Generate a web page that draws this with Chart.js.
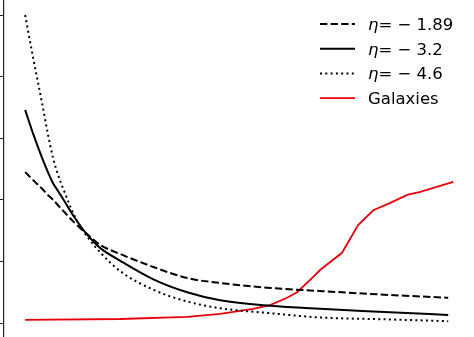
<!DOCTYPE html>
<html lang="en">
<head>
    <meta charset="UTF-8">
    <title>eta curves vs galaxies</title>
    <script src="https://cdn.jsdelivr.net/npm/chart.js"></script>
    <style>
        html, body { margin: 0; padding: 0; background: #fff; }
        .wrap { width: 474px; height: 337px; position: relative; }
    </style>
</head>
<body>
    <div class="wrap"><canvas id="chart"></canvas></div>

    <script>
        // shared x positions for the three model curves
        const xModel = [0, 0.19, 0.40, 0.52, 0.66, 0.78, 0.90, 1.18, 1.47, 1.77, 2.25, 3.03, 3.83, 4.61, 5.79, 6.97, 8.49, 10.0];
        const etaLow  = [2.45, 2.32, 2.18, 2.09, 2.00, 1.91, 1.82, 1.62, 1.44, 1.27, 1.12, 0.91, 0.73, 0.65, 0.57, 0.52, 0.46, 0.41];
        const etaMid  = [3.46, 3.07, 2.68, 2.48, 2.27, 2.14, 2.01, 1.70, 1.43, 1.22, 1.01, 0.71, 0.50, 0.37, 0.28, 0.23, 0.18, 0.13];
        const etaHigh = [5.00, 4.30, 3.57, 3.13, 2.68, 2.40, 2.18, 1.72, 1.40, 1.15, 0.84, 0.54, 0.35, 0.24, 0.16, 0.09, 0.06, 0.03];

        const xGal = [0, 2.25, 3.83, 4.61, 5.39, 5.79, 6.19, 6.43, 6.81, 6.97, 7.49, 7.87, 8.23, 8.63, 9.03, 9.34, 10.12];
        const galaxies = [0.05, 0.065, 0.10, 0.15, 0.23, 0.29, 0.41, 0.50, 0.75, 0.86, 1.14, 1.59, 1.83, 1.95, 2.08, 2.13, 2.29];

        const seriesLabels = ['η= − 1.89', 'η= − 3.2', 'η= − 4.6', 'Galaxies'];
        const yTicks = [0, 1, 2, 3, 4, 5];

        const pts = (xs, ys) => xs.map((x, i) => ({ x: x, y: ys[i] }));

        // legend drawn inside the plot, top right
        const legendInside = {
            id: 'legendInside',
            afterDraw(chart) {
                const ctx = chart.ctx;
                const font = '16.5px "DejaVu Sans"';
                const italic = 'italic 16.5px "DejaVu Sans"';
                chart.data.datasets.forEach((ds, i) => {
                    const cy = 24 + i * 24.7;
                    ctx.save();
                    ctx.strokeStyle = ds.borderColor;
                    ctx.lineWidth = ds.borderWidth;
                    ctx.setLineDash(ds.borderDash || []);
                    ctx.beginPath();
                    ctx.moveTo(320, cy);
                    ctx.lineTo(355, cy);
                    ctx.stroke();
                    ctx.restore();

                    ctx.save();
                    ctx.fillStyle = '#000';
                    ctx.textBaseline = 'alphabetic';
                    let x = 368;
                    let text = ds.label;
                    if (text.startsWith('η')) {
                        ctx.font = italic;
                        ctx.fillText('η', x, cy + 6);
                        x += ctx.measureText('η').width;
                        text = text.slice(1);
                    }
                    ctx.font = font;
                    ctx.fillText(text, x, cy + 6);
                    ctx.restore();
                });
            }
        };

        new Chart(document.getElementById('chart'), {
            type: 'line',
            data: {
                datasets: [
                    { label: seriesLabels[0], data: pts(xModel, etaLow), borderColor: '#000', borderWidth: 2,
                      borderDash: [7.4, 3.2], cubicInterpolationMode: 'monotone' },
                    { label: seriesLabels[1], data: pts(xModel, etaMid), borderColor: '#000', borderWidth: 2,
                      cubicInterpolationMode: 'monotone' },
                    { label: seriesLabels[2], data: pts(xModel, etaHigh), borderColor: '#000', borderWidth: 2,
                      borderDash: [2, 3.3], cubicInterpolationMode: 'monotone' },
                    { label: seriesLabels[3], data: pts(xGal, galaxies), borderColor: '#e8000b', borderWidth: 1.8,
                      tension: 0 }
                ]
            },
            options: {
                responsive: true,
                maintainAspectRatio: false,
                animation: false,
                layout: { padding: 0 },
                elements: { point: { radius: 0 } },
                plugins: {
                    legend: { display: false },
                    tooltip: { enabled: false }
                },
                scales: {
                    x: { type: 'linear', min: -0.5, max: 10.61, display: false },
                    y: {
                        min: -0.227, max: 5.244,
                        afterBuildTicks: (scale) => { scale.ticks = yTicks.map(v => ({ value: v })); },
                        ticks: { display: false },
                        grid: { drawOnChartArea: false, tickLength: 4, color: '#222', lineWidth: 1 },
                        border: { color: '#222', width: 1.2 }
                    }
                }
            },
            plugins: [legendInside]
        });
    </script>
</body>
</html>
